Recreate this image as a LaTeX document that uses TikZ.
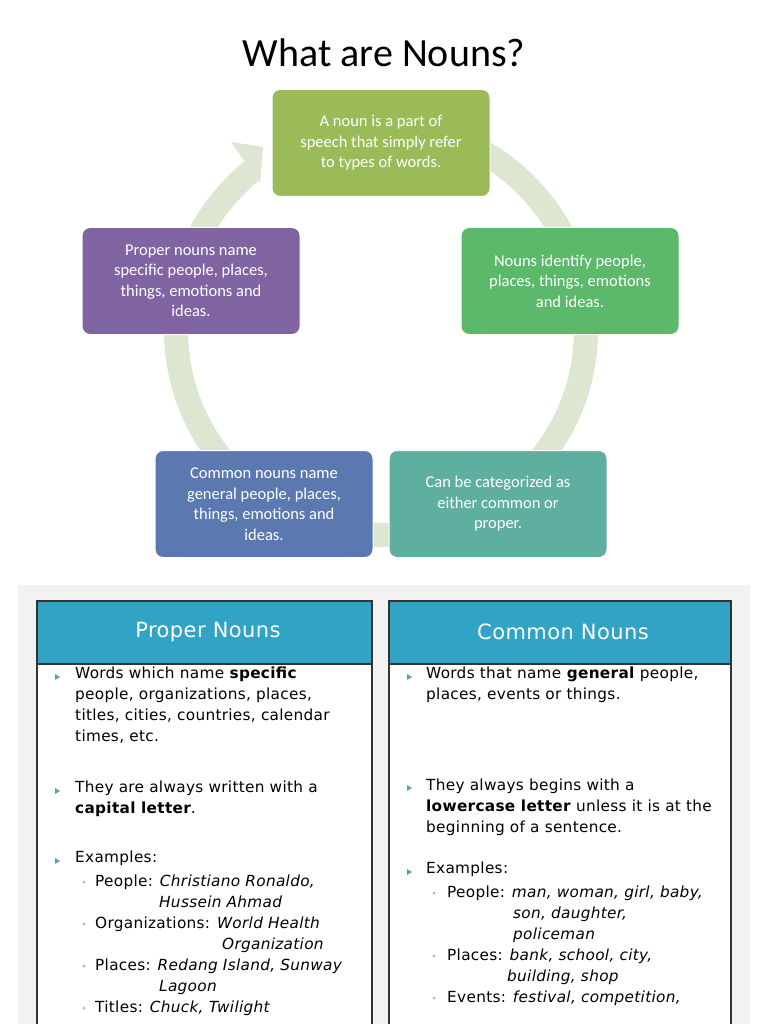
\documentclass[tikz,border=0pt]{standalone}
\usepackage{fontspec}
\setmainfont{Carlito}
\newfontfamily\vfont{DejaVu Sans}[LetterSpace=2]
\usetikzlibrary{arrows.meta}
\definecolor{ring}{HTML}{DDE6D0}
\definecolor{cA}{HTML}{9BBB59}
\definecolor{cB}{HTML}{5CB86A}
\definecolor{cC}{HTML}{5FAFA0}
\definecolor{cD}{HTML}{5B78B1}
\definecolor{cE}{HTML}{8064A2}
\definecolor{hdr}{HTML}{31A3C4}
\definecolor{bul}{HTML}{4FA3C8}
\begin{document}
\begin{tikzpicture}[x=1pt,y=-1pt,
 box/.style={rounded corners=8pt,draw=white,line width=1pt,minimum width=218pt,minimum height=107pt,align=center,text=white,font=\fontsize{16.5}{20.5}\selectfont},
 pt/.style={anchor=north west,align=left,inner sep=0pt,font=\vfont\fontsize{15.3}{21}\selectfont},
 hd/.style={font=\vfont\fontsize{21}{24}\selectfont,text=white}]
\useasboundingbox (0,0) rectangle (768,1024);
\fill[white] (0,0) rectangle (768,1024);
\node (title) at (384,53) {\fontsize{40}{44}\selectfont What are Nouns?};
% ring
\draw[ring,line width=24pt] (381,330) circle (205);
\fill[white] (245,150) -- (275,130) -- (290,170) -- (262,185) -- cycle;
\fill[ring] (263,147) -- (231,142) -- (260,183) -- cycle;
\node[box,fill=cA] (a) at (381,143) {A noun is a part of\\speech that simply refer\\to types of words.};
\node[box,fill=cB] (b) at (570,281) {Nouns identify people,\\places, things, emotions\\and ideas.};
\node[box,fill=cC] (c) at (498,504) {Can be categorized as\\either common or\\proper.};
\node[box,fill=cD] (d) at (264,504) {Common nouns name\\general people, places,\\things, emotions and\\ideas.};
\node[box,fill=cE] (e) at (191,281) {Proper nouns name\\specific people, places,\\things, emotions and\\ideas.};
% panels
\fill[black!5] (18,585) rectangle (750,1024);
\begin{scope}
\clip (0,0) rectangle (768,1024);
\fill[white] (37,601) rectangle (372,1030);
\fill[hdr] (37,601) rectangle (372,664);
\draw[black!80,line width=2.5pt] (37,1030) -- (37,601) -- (372,601) -- (372,1030);
\draw[black!80,line width=2pt] (37,664) -- (372,664);
\node[hd] (ph) at (208,632) {Proper Nouns};
\fill[white] (389,601) rectangle (731,1030);
\fill[hdr] (389,601) rectangle (731,664);
\draw[black!80,line width=2.5pt] (389,1030) -- (389,601) -- (731,601) -- (731,1030);
\draw[black!80,line width=2pt] (389,664) -- (731,664);
\node[hd] (ch) at (563,632) {Common Nouns};
% left
\foreach \y in {674,788,858}{\fill[bul] (55,\y) -- (60,\y+3) -- (55,\y+6) -- cycle;}
\node[pt] (l1) at (75,667) {Words which name \textbf{specific}\\people, organizations, places,\\titles, cities, countries, calendar\\times, etc.};
\node[pt] (l2) at (75,781) {They are always written with a\\\textbf{capital letter}.};
\node[pt] (l3) at (75,851) {Examples:};
\foreach \y in {882,924,966,1008}{\fill[black!30] (84,\y) circle (1.5);}
\node[pt] (l4) at (95,875) {People: \textit{Christiano Ronaldo,}\\\hspace*{64pt}\textit{Hussein Ahmad}\\
Organizations: \textit{World Health}\\\hspace*{127pt}\textit{Organization}\\
Places: \textit{Redang Island, Sunway}\\\hspace*{64pt}\textit{Lagoon}\\
Titles: \textit{Chuck, Twilight}};
% right
\foreach \y in {674,785,869}{\fill[bul] (407,\y) -- (412,\y+3) -- (407,\y+6) -- cycle;}
\node[pt] (r1) at (426,667) {Words that name \textbf{general} people,\\places, events or things.};
\node[pt] (r2) at (426,779) {They always begins with a\\\textbf{lowercase letter} unless it is at the\\beginning of a sentence.};
\node[pt] (r3) at (426,862) {Examples:};
\foreach \y in {893,956,998}{\fill[black!30] (434,\y) circle (1.5);}
\node[pt] (r4) at (447,886) {People: \textit{man, woman, girl, baby,}\\\hspace*{66pt}\textit{son, daughter,}\\\hspace*{66pt}\textit{policeman}\\
Places: \textit{bank, school, city,}\\\hspace*{60pt}\textit{building, shop}\\
Events: \textit{festival, competition,}};
\end{scope}
\end{tikzpicture}
\end{document}
